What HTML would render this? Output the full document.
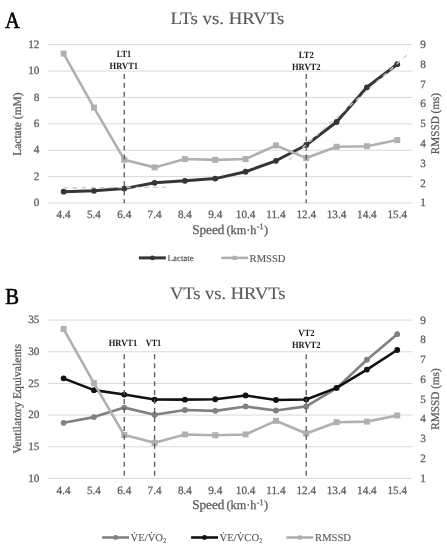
<!DOCTYPE html>
<html><head><meta charset="utf-8"><title>LTs vs. HRVTs / VTs vs. HRVTs</title>
<style>
html,body{margin:0;padding:0;background:#fff;}
body{width:447px;height:550px;overflow:hidden;}
svg{display:block;}
text{font-family:'Liberation Serif', 'Times New Roman', serif;text-rendering:geometricPrecision;}
.tk{font-size:11.2px;fill:#595959;stroke:#595959;stroke-width:0.25px;}
.ax{font-size:12px;fill:#595959;stroke:#595959;stroke-width:0.25px;}
.at{font-size:11.6px;fill:#595959;stroke:#595959;stroke-width:0.25px;}
.tt{font-size:17.6px;fill:#595959;stroke:#595959;stroke-width:0.15px;}
.pl{font-size:23px;fill:#000;stroke:#000;stroke-width:0.55px;}
.lb{font-size:9.4px;fill:#1a1a1a;font-weight:bold;}
.lg{fill:#595959;stroke:#595959;stroke-width:0.12px;}
</style></head>
<body><svg width="447" height="550" viewBox="0 0 447 550">
<rect width="447" height="550" fill="#fff"/>
<line x1="48" y1="203" x2="412.2" y2="203" stroke="#d9d9d9" stroke-width="1"/>
<text x="39.4" y="206.1" text-anchor="end" class="tk">0</text>
<line x1="48" y1="176.62" x2="412.2" y2="176.62" stroke="#d9d9d9" stroke-width="1"/>
<text x="39.4" y="179.72" text-anchor="end" class="tk">2</text>
<line x1="48" y1="150.23" x2="412.2" y2="150.23" stroke="#d9d9d9" stroke-width="1"/>
<text x="39.4" y="153.33" text-anchor="end" class="tk">4</text>
<line x1="48" y1="123.85" x2="412.2" y2="123.85" stroke="#d9d9d9" stroke-width="1"/>
<text x="39.4" y="126.95" text-anchor="end" class="tk">6</text>
<line x1="48" y1="97.47" x2="412.2" y2="97.47" stroke="#d9d9d9" stroke-width="1"/>
<text x="39.4" y="100.57" text-anchor="end" class="tk">8</text>
<line x1="48" y1="71.08" x2="412.2" y2="71.08" stroke="#d9d9d9" stroke-width="1"/>
<text x="39.4" y="74.18" text-anchor="end" class="tk">10</text>
<line x1="48" y1="44.7" x2="412.2" y2="44.7" stroke="#d9d9d9" stroke-width="1"/>
<text x="39.4" y="47.8" text-anchor="end" class="tk">12</text>
<text x="420.3" y="206.4" class="tk">1</text>
<text x="420.3" y="186.61" class="tk">2</text>
<text x="420.3" y="166.83" class="tk">3</text>
<text x="420.3" y="147.04" class="tk">4</text>
<text x="420.3" y="127.25" class="tk">5</text>
<text x="420.3" y="107.46" class="tk">6</text>
<text x="420.3" y="87.67" class="tk">7</text>
<text x="420.3" y="67.89" class="tk">8</text>
<text x="420.3" y="48.1" class="tk">9</text>
<text x="63.6" y="218.2" text-anchor="middle" class="tk">4.4</text>
<text x="93.93" y="218.2" text-anchor="middle" class="tk">5.4</text>
<text x="124.26" y="218.2" text-anchor="middle" class="tk">6.4</text>
<text x="154.59" y="218.2" text-anchor="middle" class="tk">7.4</text>
<text x="184.92" y="218.2" text-anchor="middle" class="tk">8.4</text>
<text x="215.25" y="218.2" text-anchor="middle" class="tk">9.4</text>
<text x="245.58" y="218.2" text-anchor="middle" class="tk">10.4</text>
<text x="275.91" y="218.2" text-anchor="middle" class="tk">11.4</text>
<text x="306.24" y="218.2" text-anchor="middle" class="tk">12.4</text>
<text x="336.57" y="218.2" text-anchor="middle" class="tk">13.4</text>
<text x="366.9" y="218.2" text-anchor="middle" class="tk">14.4</text>
<text x="397.23" y="218.2" text-anchor="middle" class="tk">15.4</text>
<text x="192.2" y="233.8" class="ax"><tspan font-size="13.2">Speed</tspan><tspan x="226.4" font-size="12.3">(km·h</tspan><tspan font-size="8.2" dx="0.4" dy="-4.6">-1</tspan><tspan font-size="12.3" dx="0.3" dy="4.6">)</tspan></text>
<text transform="translate(21.4 124.1) rotate(-90)" text-anchor="middle" class="at" textLength="63.4" lengthAdjust="spacingAndGlyphs">Lactate (mM)</text>
<text transform="translate(438.5 123.6) rotate(-90)" text-anchor="middle" class="at" textLength="61.3" lengthAdjust="spacingAndGlyphs">RMSSD (ms)</text>
<text x="227.5" y="24.2" text-anchor="middle" class="tt" textLength="113.8" lengthAdjust="spacingAndGlyphs">LTs vs. HRVTs</text>
<text transform="translate(5.0 27.6) scale(0.9 1)" class="pl">A</text>
<text transform="translate(124 56.8) scale(0.89 1)" text-anchor="middle" class="lb">LT1</text>
<text transform="translate(123.8 69.1) scale(0.91 1)" text-anchor="middle" class="lb">HRVT1</text>
<text transform="translate(306.3 58.1) scale(0.92 1)" text-anchor="middle" class="lb">LT2</text>
<text transform="translate(306.2 70.2) scale(0.91 1)" text-anchor="middle" class="lb">HRVT2</text>
<polyline points="63.6,191.66 93.93,190.86 124.26,188.62 154.59,182.82 184.92,180.84 215.25,178.6 245.58,171.74 275.91,160.79 306.24,144.96 336.57,122 366.9,87.31 397.23,64.22" fill="none" stroke="#353535" stroke-width="3.0" stroke-linejoin="round"/>
<circle cx="63.6" cy="191.66" r="2.9" fill="#353535"/>
<circle cx="93.93" cy="190.86" r="2.9" fill="#353535"/>
<circle cx="124.26" cy="188.62" r="2.9" fill="#353535"/>
<circle cx="154.59" cy="182.82" r="2.9" fill="#353535"/>
<circle cx="184.92" cy="180.84" r="2.9" fill="#353535"/>
<circle cx="215.25" cy="178.6" r="2.9" fill="#353535"/>
<circle cx="245.58" cy="171.74" r="2.9" fill="#353535"/>
<circle cx="275.91" cy="160.79" r="2.9" fill="#353535"/>
<circle cx="306.24" cy="144.96" r="2.9" fill="#353535"/>
<circle cx="336.57" cy="122" r="2.9" fill="#353535"/>
<circle cx="366.9" cy="87.31" r="2.9" fill="#353535"/>
<circle cx="397.23" cy="64.22" r="2.9" fill="#353535"/>
<line x1="63.6" y1="187.8" x2="166" y2="187.3" stroke="#c8c8c8" stroke-width="1.3" stroke-dasharray="4.5 4.5"/>
<line x1="289" y1="160" x2="407.5" y2="54.5" stroke="#d0d0d0" stroke-width="1.3" stroke-dasharray="4.5 4.5"/>
<polyline points="63.6,53.6 93.93,107.62 124.26,159.67 154.59,167.38 184.92,159.07 215.25,159.86 245.58,159.07 275.91,145.42 306.24,158.08 336.57,146.8 366.9,146.21 397.23,140.08" fill="none" stroke="#b0b0b0" stroke-width="2.6" stroke-linejoin="round"/>
<rect x="60.6" y="50.6" width="6.0" height="6.0" fill="#b0b0b0"/>
<rect x="90.93" y="104.62" width="6.0" height="6.0" fill="#b0b0b0"/>
<rect x="121.26" y="156.67" width="6.0" height="6.0" fill="#b0b0b0"/>
<rect x="151.59" y="164.38" width="6.0" height="6.0" fill="#b0b0b0"/>
<rect x="181.92" y="156.07" width="6.0" height="6.0" fill="#b0b0b0"/>
<rect x="212.25" y="156.86" width="6.0" height="6.0" fill="#b0b0b0"/>
<rect x="242.58" y="156.07" width="6.0" height="6.0" fill="#b0b0b0"/>
<rect x="272.91" y="142.42" width="6.0" height="6.0" fill="#b0b0b0"/>
<rect x="303.24" y="155.08" width="6.0" height="6.0" fill="#b0b0b0"/>
<rect x="333.57" y="143.8" width="6.0" height="6.0" fill="#b0b0b0"/>
<rect x="363.9" y="143.21" width="6.0" height="6.0" fill="#b0b0b0"/>
<rect x="394.23" y="137.08" width="6.0" height="6.0" fill="#b0b0b0"/>
<line x1="138.9" y1="257.9" x2="165.8" y2="257.9" stroke="#353535" stroke-width="3.0"/>
<circle cx="152.4" cy="257.9" r="2.4" fill="#353535"/>
<text x="167.6" y="260.8" class="lg" font-size="8.9" style="fill:#4a4a4a;stroke:#4a4a4a">Lactate</text>
<line x1="221.3" y1="257.9" x2="248.1" y2="257.9" stroke="#b0b0b0" stroke-width="2.6"/>
<rect x="232.6" y="255.8" width="4.2" height="4.2" fill="#b0b0b0"/>
<text x="249.6" y="261.5" class="lg" font-size="10.6">RMSSD</text>
<line x1="124.26" y1="73.9" x2="124.26" y2="203" stroke="#595959" stroke-width="1.3" stroke-dasharray="5 3.95"/>
<line x1="306.24" y1="73.9" x2="306.24" y2="203" stroke="#595959" stroke-width="1.3" stroke-dasharray="5 3.95"/>
<line x1="48" y1="478.4" x2="412.2" y2="478.4" stroke="#d9d9d9" stroke-width="1"/>
<text x="39.4" y="481.5" text-anchor="end" class="tk">10</text>
<line x1="48" y1="446.74" x2="412.2" y2="446.74" stroke="#d9d9d9" stroke-width="1"/>
<text x="39.4" y="449.84" text-anchor="end" class="tk">15</text>
<line x1="48" y1="415.08" x2="412.2" y2="415.08" stroke="#d9d9d9" stroke-width="1"/>
<text x="39.4" y="418.18" text-anchor="end" class="tk">20</text>
<line x1="48" y1="383.42" x2="412.2" y2="383.42" stroke="#d9d9d9" stroke-width="1"/>
<text x="39.4" y="386.52" text-anchor="end" class="tk">25</text>
<line x1="48" y1="351.76" x2="412.2" y2="351.76" stroke="#d9d9d9" stroke-width="1"/>
<text x="39.4" y="354.86" text-anchor="end" class="tk">30</text>
<line x1="48" y1="320.1" x2="412.2" y2="320.1" stroke="#d9d9d9" stroke-width="1"/>
<text x="39.4" y="323.2" text-anchor="end" class="tk">35</text>
<text x="420.3" y="481.8" class="tk">1</text>
<text x="420.3" y="462.01" class="tk">2</text>
<text x="420.3" y="442.22" class="tk">3</text>
<text x="420.3" y="422.44" class="tk">4</text>
<text x="420.3" y="402.65" class="tk">5</text>
<text x="420.3" y="382.86" class="tk">6</text>
<text x="420.3" y="363.07" class="tk">7</text>
<text x="420.3" y="343.29" class="tk">8</text>
<text x="420.3" y="323.5" class="tk">9</text>
<text x="63.6" y="493.6" text-anchor="middle" class="tk">4.4</text>
<text x="93.93" y="493.6" text-anchor="middle" class="tk">5.4</text>
<text x="124.26" y="493.6" text-anchor="middle" class="tk">6.4</text>
<text x="154.59" y="493.6" text-anchor="middle" class="tk">7.4</text>
<text x="184.92" y="493.6" text-anchor="middle" class="tk">8.4</text>
<text x="215.25" y="493.6" text-anchor="middle" class="tk">9.4</text>
<text x="245.58" y="493.6" text-anchor="middle" class="tk">10.4</text>
<text x="275.91" y="493.6" text-anchor="middle" class="tk">11.4</text>
<text x="306.24" y="493.6" text-anchor="middle" class="tk">12.4</text>
<text x="336.57" y="493.6" text-anchor="middle" class="tk">13.4</text>
<text x="366.9" y="493.6" text-anchor="middle" class="tk">14.4</text>
<text x="397.23" y="493.6" text-anchor="middle" class="tk">15.4</text>
<text x="192.2" y="509.2" class="ax"><tspan font-size="13.2">Speed</tspan><tspan x="226.4" font-size="12.3">(km·h</tspan><tspan font-size="8.2" dx="0.4" dy="-4.6">-1</tspan><tspan font-size="12.3" dx="0.3" dy="4.6">)</tspan></text>
<text transform="translate(21.4 398.9) rotate(-90)" text-anchor="middle" class="at" textLength="109.8" lengthAdjust="spacingAndGlyphs">Ventilatory Equivalents</text>
<text transform="translate(438.5 399) rotate(-90)" text-anchor="middle" class="at" textLength="61.3" lengthAdjust="spacingAndGlyphs">RMSSD (ms)</text>
<text x="227.7" y="299.2" text-anchor="middle" class="tt" textLength="115.4" lengthAdjust="spacingAndGlyphs">VTs vs. HRVTs</text>
<text transform="translate(5.3 304) scale(0.9 1)" class="pl">B</text>
<text transform="translate(123 346.3) scale(0.91 1)" text-anchor="middle" class="lb">HRVT1</text>
<text transform="translate(153.5 346.3) scale(0.87 1)" text-anchor="middle" class="lb">VT1</text>
<text transform="translate(306.4 335.5) scale(0.92 1)" text-anchor="middle" class="lb">VT2</text>
<text transform="translate(306.2 347.6) scale(0.91 1)" text-anchor="middle" class="lb">HRVT2</text>
<polyline points="63.6,422.81 93.93,417.11 124.26,407.61 154.59,414.76 184.92,410.01 215.25,410.84 245.58,406.47 275.91,410.52 306.24,406.41 336.57,388.17 366.9,359.74 397.23,334.22" fill="none" stroke="#808080" stroke-width="2.6" stroke-linejoin="round"/>
<circle cx="63.6" cy="422.81" r="2.9" fill="#808080"/>
<circle cx="93.93" cy="417.11" r="2.9" fill="#808080"/>
<circle cx="124.26" cy="407.61" r="2.9" fill="#808080"/>
<circle cx="154.59" cy="414.76" r="2.9" fill="#808080"/>
<circle cx="184.92" cy="410.01" r="2.9" fill="#808080"/>
<circle cx="215.25" cy="410.84" r="2.9" fill="#808080"/>
<circle cx="245.58" cy="406.47" r="2.9" fill="#808080"/>
<circle cx="275.91" cy="410.52" r="2.9" fill="#808080"/>
<circle cx="306.24" cy="406.41" r="2.9" fill="#808080"/>
<circle cx="336.57" cy="388.17" r="2.9" fill="#808080"/>
<circle cx="366.9" cy="359.74" r="2.9" fill="#808080"/>
<circle cx="397.23" cy="334.22" r="2.9" fill="#808080"/>
<polyline points="63.6,378.35 93.93,390.13 124.26,394.56 154.59,399.57 184.92,399.63 215.25,399.25 245.58,395.45 275.91,400.01 306.24,399.5 336.57,387.85 366.9,369.62 397.23,349.99" fill="none" stroke="#111111" stroke-width="2.6" stroke-linejoin="round"/>
<circle cx="63.6" cy="378.35" r="2.9" fill="#111111"/>
<circle cx="93.93" cy="390.13" r="2.9" fill="#111111"/>
<circle cx="124.26" cy="394.56" r="2.9" fill="#111111"/>
<circle cx="154.59" cy="399.57" r="2.9" fill="#111111"/>
<circle cx="184.92" cy="399.63" r="2.9" fill="#111111"/>
<circle cx="215.25" cy="399.25" r="2.9" fill="#111111"/>
<circle cx="245.58" cy="395.45" r="2.9" fill="#111111"/>
<circle cx="275.91" cy="400.01" r="2.9" fill="#111111"/>
<circle cx="306.24" cy="399.5" r="2.9" fill="#111111"/>
<circle cx="336.57" cy="387.85" r="2.9" fill="#111111"/>
<circle cx="366.9" cy="369.62" r="2.9" fill="#111111"/>
<circle cx="397.23" cy="349.99" r="2.9" fill="#111111"/>
<polyline points="63.6,329 93.93,383.02 124.26,435.07 154.59,442.78 184.92,434.47 215.25,435.26 245.58,434.47 275.91,420.82 306.24,433.48 336.57,422.2 366.9,421.61 397.23,415.48" fill="none" stroke="#b0b0b0" stroke-width="2.6" stroke-linejoin="round"/>
<rect x="60.6" y="326" width="6.0" height="6.0" fill="#b0b0b0"/>
<rect x="90.93" y="380.02" width="6.0" height="6.0" fill="#b0b0b0"/>
<rect x="121.26" y="432.07" width="6.0" height="6.0" fill="#b0b0b0"/>
<rect x="151.59" y="439.78" width="6.0" height="6.0" fill="#b0b0b0"/>
<rect x="181.92" y="431.47" width="6.0" height="6.0" fill="#b0b0b0"/>
<rect x="212.25" y="432.26" width="6.0" height="6.0" fill="#b0b0b0"/>
<rect x="242.58" y="431.47" width="6.0" height="6.0" fill="#b0b0b0"/>
<rect x="272.91" y="417.82" width="6.0" height="6.0" fill="#b0b0b0"/>
<rect x="303.24" y="430.48" width="6.0" height="6.0" fill="#b0b0b0"/>
<rect x="333.57" y="419.2" width="6.0" height="6.0" fill="#b0b0b0"/>
<rect x="363.9" y="418.61" width="6.0" height="6.0" fill="#b0b0b0"/>
<rect x="394.23" y="412.48" width="6.0" height="6.0" fill="#b0b0b0"/>
<line x1="102.2" y1="537.5" x2="129" y2="537.5" stroke="#808080" stroke-width="2.6"/>
<circle cx="115.6" cy="537.5" r="2.4" fill="#808080"/>
<text x="130.6" y="540.7" class="lg" font-size="10.6">V̇E/V̇O<tspan font-size="7" dy="2">2</tspan></text>
<line x1="191.1" y1="537.5" x2="218" y2="537.5" stroke="#111111" stroke-width="2.6"/>
<circle cx="204.5" cy="537.5" r="2.4" fill="#111111"/>
<text x="219.6" y="540.7" class="lg" font-size="10.6">V̇E/V̇CO<tspan font-size="7" dy="2">2</tspan></text>
<line x1="286.3" y1="537.5" x2="313.1" y2="537.5" stroke="#b0b0b0" stroke-width="2.6"/>
<rect x="297.6" y="535.4" width="4.2" height="4.2" fill="#b0b0b0"/>
<text x="315.1" y="540.7" class="lg" font-size="10.6">RMSSD</text>
<line x1="124.26" y1="354.3" x2="124.26" y2="478.4" stroke="#595959" stroke-width="1.3" stroke-dasharray="5 3.95"/>
<line x1="154.59" y1="354.3" x2="154.59" y2="478.4" stroke="#595959" stroke-width="1.3" stroke-dasharray="5 3.95"/>
<line x1="306.24" y1="354.3" x2="306.24" y2="478.4" stroke="#595959" stroke-width="1.3" stroke-dasharray="5 3.95"/>
</svg></body></html>
